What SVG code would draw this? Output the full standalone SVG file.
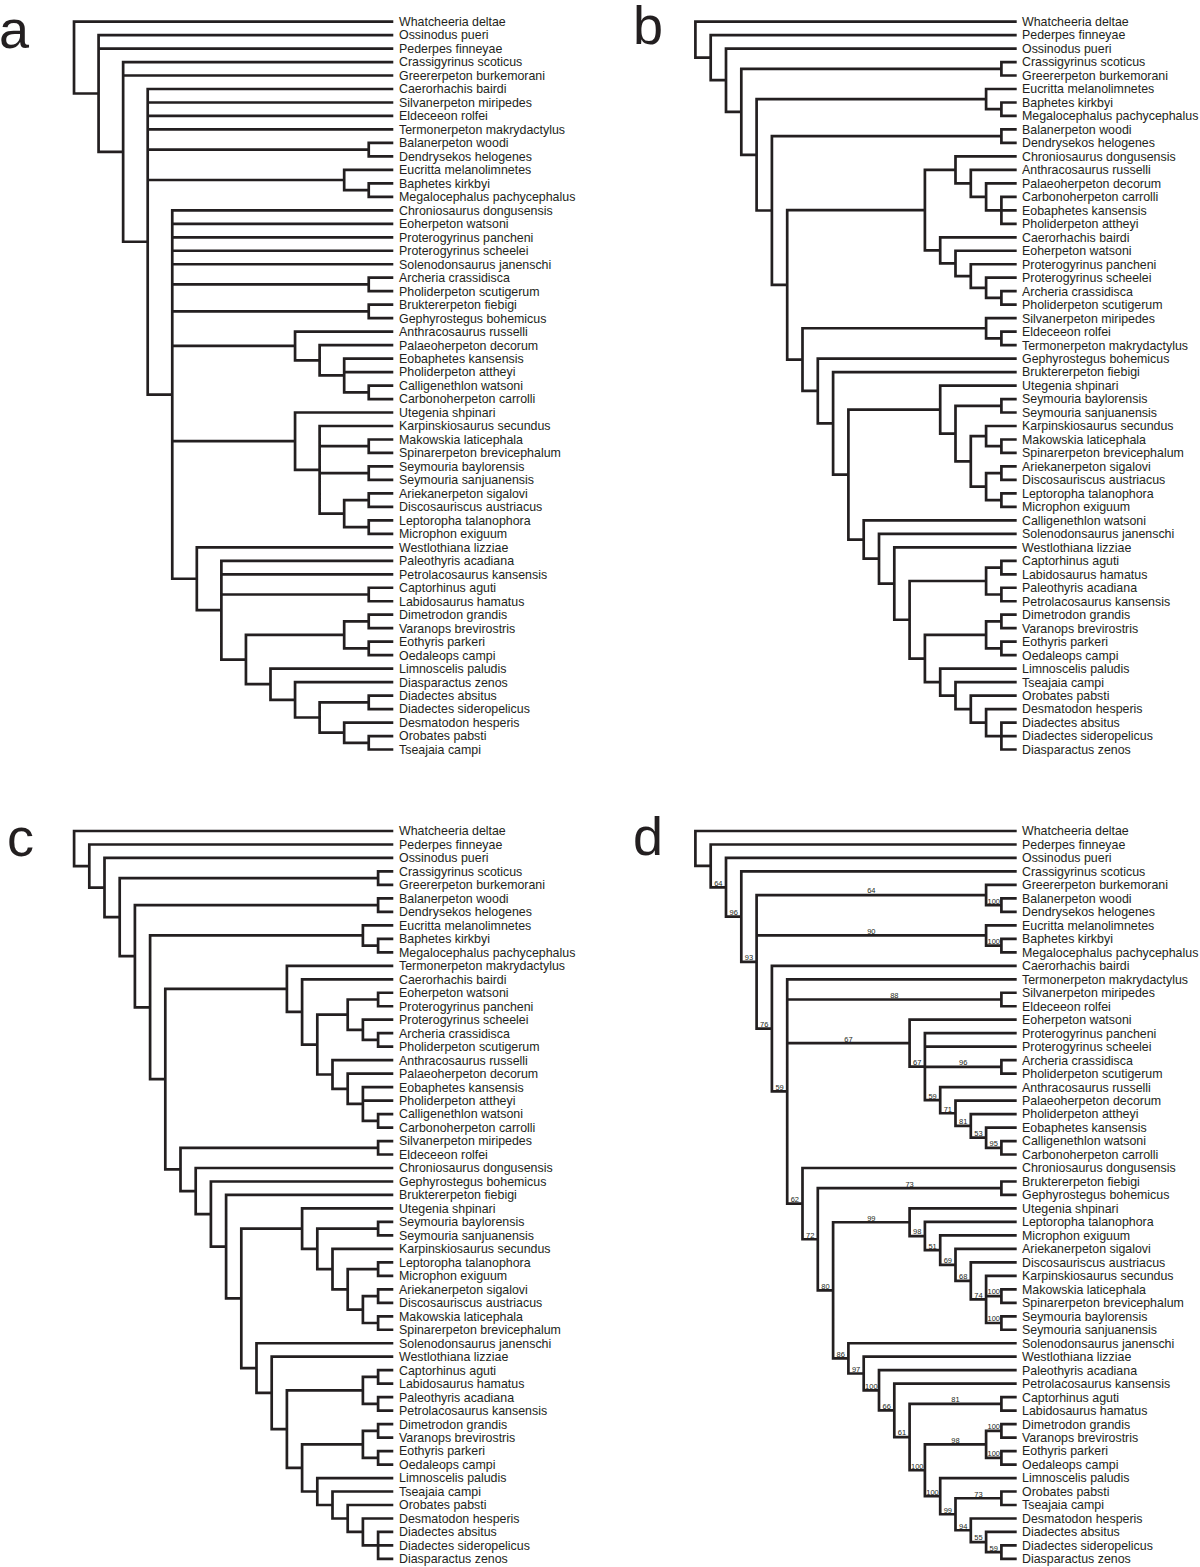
<svg xmlns="http://www.w3.org/2000/svg" width="1200" height="1567" viewBox="0 0 1200 1567">
<style>
.br{fill:none;stroke:#231f20;stroke-width:2.7;stroke-linejoin:miter;stroke-linecap:butt;vector-effect:non-scaling-stroke}
.t{font-family:"Liberation Sans",Arial,Helvetica,sans-serif;font-size:12.4px;fill:#231f20}
.bs{font-family:"Liberation Sans",Arial,Helvetica,sans-serif;font-size:7.5px;fill:#231f20;text-anchor:middle}
.pl{font-family:"Liberation Sans",Arial,Helvetica,sans-serif;font-size:54px;fill:#231f20}
</style>
<rect width="1200" height="1567" fill="#ffffff"/>
<g id="connectors">
<g id="tree-a" transform="matrix(-24.56 0 0 13.48 393.3 21.6)">
<path class="br" vector-effect="non-scaling-stroke" d="M0,0H13V5.3333H12 M0,1H12V9.6667H11M12,2H0 M0,3H11V16.3333H10M11,4H0 M0,5H10V27.666H9M10,6H0M10,7H0M10,8H0M10,9.5H1M10,11.75H2 M0,9H1V10H0 M0,11H2V12.5H1 M0,12H1V13H0 M0,14H9V41.332H8M9,15H0M9,16H0M9,17H0M9,18H0M9,19.5H1M9,21.5H1M9,24.0625H4M9,31.125H4 M0,19H1V20H0 M0,21H1V22H0 M0,23H4V25.125H3 M0,24H3V26.25H2 M0,25H2V27.5H1M2,26H0 M0,27H1V28H0 M0,29H4V33.25H3 M0,30H3V36.5H2M3,31.5H1M3,33.5H1 M0,31H1V32H0 M0,33H1V34H0 M1,35.5H2V37.5H1 M0,35H1V36H0 M0,37H1V38H0 M0,39H8V43.664H7 M0,40H7V47.328H6M7,41H0M7,42.5H1 M0,42H1V43H0 M2,45.5H6V49.156H5 M1,44.5H2V46.5H1 M0,44H1V45H0 M0,46H1V47H0 M0,48H5V50.3125H4 M0,49H4V51.625H3 M1,50.5H3V52.75H2 M0,50H1V51H0 M0,52H2V53.5H1 M0,53H1V54H0"/>
</g>
<g id="tree-b" transform="matrix(-15.3 0 0 13.48 1016.7 21.6)">
<path class="br" vector-effect="non-scaling-stroke" d="M0,0H21V2.6728H20 M0,1H20V4.3456H19 M0,2H19V6.6912H18 M1,3.5H18V9.8825H17 M0,3H1V4H0 M2,5.75H17V14.0149H16 M0,5H2V6.5H1 M0,6H1V7H0 M1,8.5H16V19.5298H15 M0,8H1V9H0 M6,13.9844H15V25.0752H14 M4,11H6V16.9688H5 M0,10H4V12H3 M0,11H3V13H2 M0,12H2V14H1 M0,13H1V15H0M1,14H0 M0,16H5V17.9375H4 M0,17H4V18.875H3 M0,18H3V19.75H2 M0,19H2V20.5H1 M0,20H1V21H0 M2,22.75H14V27.4004H13 M0,22H2V23.5H1 M0,23H1V24H0 M0,25H13V29.8008H12 M0,26H12V33.6016H11 M5,28.7813H11V38.4219H10 M0,27H5V30.5625H4 M1,28.5H4V32.625H3 M0,28H1V29H0 M2,30.75H3V34.5H2 M0,30H2V31.5H1 M0,31H1V32H0 M1,33.5H2V35.5H1 M0,33H1V34H0 M0,35H1V36H0 M0,37H10V39.8438H9 M0,38H9V41.6875H8 M0,39H8V44.375H7 M2,41.5H7V47.25H6 M1,40.5H2V42.5H1 M0,40H1V41H0 M0,42H1V43H0 M2,45.5H6V49H5 M1,44.5H2V46.5H1 M0,44H1V45H0 M0,46H1V47H0 M0,48H5V50H4 M0,49H4V51H3 M0,50H3V52H2 M0,51H2V53H1 M0,52H1V54H0M1,53H0"/>
</g>
<g id="tree-c" transform="matrix(-15.2 0 0 13.48 393.3 831)">
<path class="br" vector-effect="non-scaling-stroke" d="M0,0H21V2.5987H20 M0,1H20V4.1974H19 M0,2H19V6.3947H18 M1,3.5H18V9.2894H17 M0,3H1V4H0 M1,5.5H17V13.0789H16 M0,5H1V6H0 M2,7.75H16V18.4077H15 M0,7H2V8.5H1 M0,8H1V9H0 M7,11.7109H15V25.1045H14 M0,10H7V13.4219H6 M0,11H6V15.8438H5 M3,13.625H5V18.0625H4 M1,12.5H3V14.75H2 M0,12H1V13H0 M0,14H2V15.5H1 M0,15H1V16H0 M0,17H4V19.125H3 M0,18H3V20.25H2 M0,19H2V21.5H1M2,20H0 M0,21H1V22H0 M1,23.5H14V26.709H13 M0,23H1V24H0 M0,25H13V28.418H12 M0,26H12V30.8359H11 M0,27H11V34.6719H10 M6,29.5H10V39.8438H9 M0,28H6V31H5 M1,29.5H5V32.5H4 M0,29H1V30H0 M0,31H4V34H3 M1,32.5H3V35.5H2 M0,32H1V33H0 M1,34.5H2V36.5H1 M0,34H1V35H0 M0,36H1V37H0 M0,38H9V41.6875H8 M0,39H8V44.375H7 M2,41.5H7V47.25H6 M1,40.5H2V42.5H1 M0,40H1V41H0 M0,42H1V43H0 M2,45.5H6V49H5 M1,44.5H2V46.5H1 M0,44H1V45H0 M0,46H1V47H0 M0,48H5V50H4 M0,49H4V51H3 M0,50H3V52H2 M0,51H2V53H1 M0,52H1V54H0M1,53H0"/>
</g>
<g id="tree-d" transform="matrix(-15.3 0 0 13.48 1016.7 831)">
<path class="br" vector-effect="non-scaling-stroke" d="M0,0H21V2.5882H20 M0,1H20V4.1764H19 M0,2H19V6.3527H18 M0,3H18V9.7054H17 M2,4.75H17V14.6608H16M17,7.75H2 M0,4H2V5.5H1 M0,5H1V6H0 M0,7H2V8.5H1 M0,8H1V9H0 M0,10H16V19.3216H15 M0,11H15V27.6433H14M15,12.5H1M15,15.7422H7 M0,12H1V13H0 M0,14H7V17.4844H6 M0,15H6V19.9688H5M6,16H0M6,17.5H1 M0,17H1V18H0 M0,19H5V20.9375H4 M0,20H4V21.875H3 M0,21H3V22.75H2 M0,22H2V23.5H1 M0,23H1V24H0 M0,25H14V30.2865H13 M1,26.5H13V34.073H12 M0,26H1V27H0 M7,29.0234H12V39.1226H11 M0,28H7V30.0469H6 M0,29H6V31.0938H5 M0,30H5V32.1875H4 M0,31H4V33.375H3 M0,32H3V34.75H2 M0,33H2V36.5H1M2,34.5H1 M0,34H1V35H0 M0,36H1V37H0 M0,38H11V40.2451H10 M0,39H10V41.4902H9 M0,40H9V42.9805H8 M0,41H8V44.9609H7 M1,42.5H7V47.4219H6 M0,42H1V43H0 M2,45.5H6V49.3438H5 M1,44.5H2V46.5H1 M0,44H1V45H0 M0,46H1V47H0 M0,48H5V50.6875H4 M1,49.5H4V51.875H3 M0,49H1V50H0 M0,51H3V52.75H2 M0,52H2V53.5H1 M0,53H1V54H0"/>
</g>
</g>
<g id="panel-letters">
<text class="pl" x="-1" y="48">a</text>
<text class="pl" x="633" y="44" font-size="52">b</text>
<text class="pl" x="7" y="856">c</text>
<text class="pl" x="633" y="855">d</text>
</g>
<g id="labels-a" transform="translate(399 26)">
<g id="a0"><text class="t" y="0">Whatcheeria deltae</text></g>
<g id="a1"><text class="t" y="13.48">Ossinodus pueri</text></g>
<g id="a2"><text class="t" y="26.96">Pederpes finneyae</text></g>
<g id="a3"><text class="t" y="40.44">Crassigyrinus scoticus</text></g>
<g id="a4"><text class="t" y="53.92">Greererpeton burkemorani</text></g>
<g id="a5"><text class="t" y="67.4">Caerorhachis bairdi</text></g>
<g id="a6"><text class="t" y="80.88">Silvanerpeton miripedes</text></g>
<g id="a7"><text class="t" y="94.36">Eldeceeon rolfei</text></g>
<g id="a8"><text class="t" y="107.84">Termonerpeton makrydactylus</text></g>
<g id="a9"><text class="t" y="121.32">Balanerpeton woodi</text></g>
<g id="a10"><text class="t" y="134.8">Dendrysekos helogenes</text></g>
<g id="a11"><text class="t" y="148.28">Eucritta melanolimnetes</text></g>
<g id="a12"><text class="t" y="161.76">Baphetes kirkbyi</text></g>
<g id="a13"><text class="t" y="175.24">Megalocephalus pachycephalus</text></g>
<g id="a14"><text class="t" y="188.72">Chroniosaurus dongusensis</text></g>
<g id="a15"><text class="t" y="202.2">Eoherpeton watsoni</text></g>
<g id="a16"><text class="t" y="215.68">Proterogyrinus pancheni</text></g>
<g id="a17"><text class="t" y="229.16">Proterogyrinus scheelei</text></g>
<g id="a18"><text class="t" y="242.64">Solenodonsaurus janenschi</text></g>
<g id="a19"><text class="t" y="256.12">Archeria crassidisca</text></g>
<g id="a20"><text class="t" y="269.6">Pholiderpeton scutigerum</text></g>
<g id="a21"><text class="t" y="283.08">Bruktererpeton fiebigi</text></g>
<g id="a22"><text class="t" y="296.56">Gephyrostegus bohemicus</text></g>
<g id="a23"><text class="t" y="310.04">Anthracosaurus russelli</text></g>
<g id="a24"><text class="t" y="323.52">Palaeoherpeton decorum</text></g>
<g id="a25"><text class="t" y="337">Eobaphetes kansensis</text></g>
<g id="a26"><text class="t" y="350.48">Pholiderpeton attheyi</text></g>
<g id="a27"><text class="t" y="363.96">Calligenethlon watsoni</text></g>
<g id="a28"><text class="t" y="377.44">Carbonoherpeton carrolli</text></g>
<g id="a29"><text class="t" y="390.92">Utegenia shpinari</text></g>
<g id="a30"><text class="t" y="404.4">Karpinskiosaurus secundus</text></g>
<g id="a31"><text class="t" y="417.88">Makowskia laticephala</text></g>
<g id="a32"><text class="t" y="431.36">Spinarerpeton brevicephalum</text></g>
<g id="a33"><text class="t" y="444.84">Seymouria baylorensis</text></g>
<g id="a34"><text class="t" y="458.32">Seymouria sanjuanensis</text></g>
<g id="a35"><text class="t" y="471.8">Ariekanerpeton sigalovi</text></g>
<g id="a36"><text class="t" y="485.28">Discosauriscus austriacus</text></g>
<g id="a37"><text class="t" y="498.76">Leptoropha talanophora</text></g>
<g id="a38"><text class="t" y="512.24">Microphon exiguum</text></g>
<g id="a39"><text class="t" y="525.72">Westlothiana lizziae</text></g>
<g id="a40"><text class="t" y="539.2">Paleothyris acadiana</text></g>
<g id="a41"><text class="t" y="552.68">Petrolacosaurus kansensis</text></g>
<g id="a42"><text class="t" y="566.16">Captorhinus aguti</text></g>
<g id="a43"><text class="t" y="579.64">Labidosaurus hamatus</text></g>
<g id="a44"><text class="t" y="593.12">Dimetrodon grandis</text></g>
<g id="a45"><text class="t" y="606.6">Varanops brevirostris</text></g>
<g id="a46"><text class="t" y="620.08">Eothyris parkeri</text></g>
<g id="a47"><text class="t" y="633.56">Oedaleops campi</text></g>
<g id="a48"><text class="t" y="647.04">Limnoscelis paludis</text></g>
<g id="a49"><text class="t" y="660.52">Diasparactus zenos</text></g>
<g id="a50"><text class="t" y="674">Diadectes absitus</text></g>
<g id="a51"><text class="t" y="687.48">Diadectes sideropelicus</text></g>
<g id="a52"><text class="t" y="700.96">Desmatodon hesperis</text></g>
<g id="a53"><text class="t" y="714.44">Orobates pabsti</text></g>
<g id="a54"><text class="t" y="727.92">Tseajaia campi</text></g>
</g>
<g id="labels-b" transform="translate(1022 26)">
<g id="b0"><text class="t" y="0">Whatcheeria deltae</text></g>
<g id="b1"><text class="t" y="13.48">Pederpes finneyae</text></g>
<g id="b2"><text class="t" y="26.96">Ossinodus pueri</text></g>
<g id="b3"><text class="t" y="40.44">Crassigyrinus scoticus</text></g>
<g id="b4"><text class="t" y="53.92">Greererpeton burkemorani</text></g>
<g id="b5"><text class="t" y="67.4">Eucritta melanolimnetes</text></g>
<g id="b6"><text class="t" y="80.88">Baphetes kirkbyi</text></g>
<g id="b7"><text class="t" y="94.36">Megalocephalus pachycephalus</text></g>
<g id="b8"><text class="t" y="107.84">Balanerpeton woodi</text></g>
<g id="b9"><text class="t" y="121.32">Dendrysekos helogenes</text></g>
<g id="b10"><text class="t" y="134.8">Chroniosaurus dongusensis</text></g>
<g id="b11"><text class="t" y="148.28">Anthracosaurus russelli</text></g>
<g id="b12"><text class="t" y="161.76">Palaeoherpeton decorum</text></g>
<g id="b13"><text class="t" y="175.24">Carbonoherpeton carrolli</text></g>
<g id="b14"><text class="t" y="188.72">Eobaphetes kansensis</text></g>
<g id="b15"><text class="t" y="202.2">Pholiderpeton attheyi</text></g>
<g id="b16"><text class="t" y="215.68">Caerorhachis bairdi</text></g>
<g id="b17"><text class="t" y="229.16">Eoherpeton watsoni</text></g>
<g id="b18"><text class="t" y="242.64">Proterogyrinus pancheni</text></g>
<g id="b19"><text class="t" y="256.12">Proterogyrinus scheelei</text></g>
<g id="b20"><text class="t" y="269.6">Archeria crassidisca</text></g>
<g id="b21"><text class="t" y="283.08">Pholiderpeton scutigerum</text></g>
<g id="b22"><text class="t" y="296.56">Silvanerpeton miripedes</text></g>
<g id="b23"><text class="t" y="310.04">Eldeceeon rolfei</text></g>
<g id="b24"><text class="t" y="323.52">Termonerpeton makrydactylus</text></g>
<g id="b25"><text class="t" y="337">Gephyrostegus bohemicus</text></g>
<g id="b26"><text class="t" y="350.48">Bruktererpeton fiebigi</text></g>
<g id="b27"><text class="t" y="363.96">Utegenia shpinari</text></g>
<g id="b28"><text class="t" y="377.44">Seymouria baylorensis</text></g>
<g id="b29"><text class="t" y="390.92">Seymouria sanjuanensis</text></g>
<g id="b30"><text class="t" y="404.4">Karpinskiosaurus secundus</text></g>
<g id="b31"><text class="t" y="417.88">Makowskia laticephala</text></g>
<g id="b32"><text class="t" y="431.36">Spinarerpeton brevicephalum</text></g>
<g id="b33"><text class="t" y="444.84">Ariekanerpeton sigalovi</text></g>
<g id="b34"><text class="t" y="458.32">Discosauriscus austriacus</text></g>
<g id="b35"><text class="t" y="471.8">Leptoropha talanophora</text></g>
<g id="b36"><text class="t" y="485.28">Microphon exiguum</text></g>
<g id="b37"><text class="t" y="498.76">Calligenethlon watsoni</text></g>
<g id="b38"><text class="t" y="512.24">Solenodonsaurus janenschi</text></g>
<g id="b39"><text class="t" y="525.72">Westlothiana lizziae</text></g>
<g id="b40"><text class="t" y="539.2">Captorhinus aguti</text></g>
<g id="b41"><text class="t" y="552.68">Labidosaurus hamatus</text></g>
<g id="b42"><text class="t" y="566.16">Paleothyris acadiana</text></g>
<g id="b43"><text class="t" y="579.64">Petrolacosaurus kansensis</text></g>
<g id="b44"><text class="t" y="593.12">Dimetrodon grandis</text></g>
<g id="b45"><text class="t" y="606.6">Varanops brevirostris</text></g>
<g id="b46"><text class="t" y="620.08">Eothyris parkeri</text></g>
<g id="b47"><text class="t" y="633.56">Oedaleops campi</text></g>
<g id="b48"><text class="t" y="647.04">Limnoscelis paludis</text></g>
<g id="b49"><text class="t" y="660.52">Tseajaia campi</text></g>
<g id="b50"><text class="t" y="674">Orobates pabsti</text></g>
<g id="b51"><text class="t" y="687.48">Desmatodon hesperis</text></g>
<g id="b52"><text class="t" y="700.96">Diadectes absitus</text></g>
<g id="b53"><text class="t" y="714.44">Diadectes sideropelicus</text></g>
<g id="b54"><text class="t" y="727.92">Diasparactus zenos</text></g>
</g>
<g id="labels-c" transform="translate(399 835.4)">
<g id="c0"><text class="t" y="0">Whatcheeria deltae</text></g>
<g id="c1"><text class="t" y="13.48">Pederpes finneyae</text></g>
<g id="c2"><text class="t" y="26.96">Ossinodus pueri</text></g>
<g id="c3"><text class="t" y="40.44">Crassigyrinus scoticus</text></g>
<g id="c4"><text class="t" y="53.92">Greererpeton burkemorani</text></g>
<g id="c5"><text class="t" y="67.4">Balanerpeton woodi</text></g>
<g id="c6"><text class="t" y="80.88">Dendrysekos helogenes</text></g>
<g id="c7"><text class="t" y="94.36">Eucritta melanolimnetes</text></g>
<g id="c8"><text class="t" y="107.84">Baphetes kirkbyi</text></g>
<g id="c9"><text class="t" y="121.32">Megalocephalus pachycephalus</text></g>
<g id="c10"><text class="t" y="134.8">Termonerpeton makrydactylus</text></g>
<g id="c11"><text class="t" y="148.28">Caerorhachis bairdi</text></g>
<g id="c12"><text class="t" y="161.76">Eoherpeton watsoni</text></g>
<g id="c13"><text class="t" y="175.24">Proterogyrinus pancheni</text></g>
<g id="c14"><text class="t" y="188.72">Proterogyrinus scheelei</text></g>
<g id="c15"><text class="t" y="202.2">Archeria crassidisca</text></g>
<g id="c16"><text class="t" y="215.68">Pholiderpeton scutigerum</text></g>
<g id="c17"><text class="t" y="229.16">Anthracosaurus russelli</text></g>
<g id="c18"><text class="t" y="242.64">Palaeoherpeton decorum</text></g>
<g id="c19"><text class="t" y="256.12">Eobaphetes kansensis</text></g>
<g id="c20"><text class="t" y="269.6">Pholiderpeton attheyi</text></g>
<g id="c21"><text class="t" y="283.08">Calligenethlon watsoni</text></g>
<g id="c22"><text class="t" y="296.56">Carbonoherpeton carrolli</text></g>
<g id="c23"><text class="t" y="310.04">Silvanerpeton miripedes</text></g>
<g id="c24"><text class="t" y="323.52">Eldeceeon rolfei</text></g>
<g id="c25"><text class="t" y="337">Chroniosaurus dongusensis</text></g>
<g id="c26"><text class="t" y="350.48">Gephyrostegus bohemicus</text></g>
<g id="c27"><text class="t" y="363.96">Bruktererpeton fiebigi</text></g>
<g id="c28"><text class="t" y="377.44">Utegenia shpinari</text></g>
<g id="c29"><text class="t" y="390.92">Seymouria baylorensis</text></g>
<g id="c30"><text class="t" y="404.4">Seymouria sanjuanensis</text></g>
<g id="c31"><text class="t" y="417.88">Karpinskiosaurus secundus</text></g>
<g id="c32"><text class="t" y="431.36">Leptoropha talanophora</text></g>
<g id="c33"><text class="t" y="444.84">Microphon exiguum</text></g>
<g id="c34"><text class="t" y="458.32">Ariekanerpeton sigalovi</text></g>
<g id="c35"><text class="t" y="471.8">Discosauriscus austriacus</text></g>
<g id="c36"><text class="t" y="485.28">Makowskia laticephala</text></g>
<g id="c37"><text class="t" y="498.76">Spinarerpeton brevicephalum</text></g>
<g id="c38"><text class="t" y="512.24">Solenodonsaurus janenschi</text></g>
<g id="c39"><text class="t" y="525.72">Westlothiana lizziae</text></g>
<g id="c40"><text class="t" y="539.2">Captorhinus aguti</text></g>
<g id="c41"><text class="t" y="552.68">Labidosaurus hamatus</text></g>
<g id="c42"><text class="t" y="566.16">Paleothyris acadiana</text></g>
<g id="c43"><text class="t" y="579.64">Petrolacosaurus kansensis</text></g>
<g id="c44"><text class="t" y="593.12">Dimetrodon grandis</text></g>
<g id="c45"><text class="t" y="606.6">Varanops brevirostris</text></g>
<g id="c46"><text class="t" y="620.08">Eothyris parkeri</text></g>
<g id="c47"><text class="t" y="633.56">Oedaleops campi</text></g>
<g id="c48"><text class="t" y="647.04">Limnoscelis paludis</text></g>
<g id="c49"><text class="t" y="660.52">Tseajaia campi</text></g>
<g id="c50"><text class="t" y="674">Orobates pabsti</text></g>
<g id="c51"><text class="t" y="687.48">Desmatodon hesperis</text></g>
<g id="c52"><text class="t" y="700.96">Diadectes absitus</text></g>
<g id="c53"><text class="t" y="714.44">Diadectes sideropelicus</text></g>
<g id="c54"><text class="t" y="727.92">Diasparactus zenos</text></g>
</g>
<g id="labels-d" transform="translate(1022 835.4)">
<g id="d0"><text class="t" y="0">Whatcheeria deltae</text></g>
<g id="d1"><text class="t" y="13.48">Pederpes finneyae</text></g>
<g id="d2"><text class="t" y="26.96">Ossinodus pueri</text></g>
<g id="d3"><text class="t" y="40.44">Crassigyrinus scoticus</text></g>
<g id="d4"><text class="t" y="53.92">Greererpeton burkemorani</text></g>
<g id="d5"><text class="t" y="67.4">Balanerpeton woodi</text></g>
<g id="d6"><text class="t" y="80.88">Dendrysekos helogenes</text></g>
<g id="d7"><text class="t" y="94.36">Eucritta melanolimnetes</text></g>
<g id="d8"><text class="t" y="107.84">Baphetes kirkbyi</text></g>
<g id="d9"><text class="t" y="121.32">Megalocephalus pachycephalus</text></g>
<g id="d10"><text class="t" y="134.8">Caerorhachis bairdi</text></g>
<g id="d11"><text class="t" y="148.28">Termonerpeton makrydactylus</text></g>
<g id="d12"><text class="t" y="161.76">Silvanerpeton miripedes</text></g>
<g id="d13"><text class="t" y="175.24">Eldeceeon rolfei</text></g>
<g id="d14"><text class="t" y="188.72">Eoherpeton watsoni</text></g>
<g id="d15"><text class="t" y="202.2">Proterogyrinus pancheni</text></g>
<g id="d16"><text class="t" y="215.68">Proterogyrinus scheelei</text></g>
<g id="d17"><text class="t" y="229.16">Archeria crassidisca</text></g>
<g id="d18"><text class="t" y="242.64">Pholiderpeton scutigerum</text></g>
<g id="d19"><text class="t" y="256.12">Anthracosaurus russelli</text></g>
<g id="d20"><text class="t" y="269.6">Palaeoherpeton decorum</text></g>
<g id="d21"><text class="t" y="283.08">Pholiderpeton attheyi</text></g>
<g id="d22"><text class="t" y="296.56">Eobaphetes kansensis</text></g>
<g id="d23"><text class="t" y="310.04">Calligenethlon watsoni</text></g>
<g id="d24"><text class="t" y="323.52">Carbonoherpeton carrolli</text></g>
<g id="d25"><text class="t" y="337">Chroniosaurus dongusensis</text></g>
<g id="d26"><text class="t" y="350.48">Bruktererpeton fiebigi</text></g>
<g id="d27"><text class="t" y="363.96">Gephyrostegus bohemicus</text></g>
<g id="d28"><text class="t" y="377.44">Utegenia shpinari</text></g>
<g id="d29"><text class="t" y="390.92">Leptoropha talanophora</text></g>
<g id="d30"><text class="t" y="404.4">Microphon exiguum</text></g>
<g id="d31"><text class="t" y="417.88">Ariekanerpeton sigalovi</text></g>
<g id="d32"><text class="t" y="431.36">Discosauriscus austriacus</text></g>
<g id="d33"><text class="t" y="444.84">Karpinskiosaurus secundus</text></g>
<g id="d34"><text class="t" y="458.32">Makowskia laticephala</text></g>
<g id="d35"><text class="t" y="471.8">Spinarerpeton brevicephalum</text></g>
<g id="d36"><text class="t" y="485.28">Seymouria baylorensis</text></g>
<g id="d37"><text class="t" y="498.76">Seymouria sanjuanensis</text></g>
<g id="d38"><text class="t" y="512.24">Solenodonsaurus janenschi</text></g>
<g id="d39"><text class="t" y="525.72">Westlothiana lizziae</text></g>
<g id="d40"><text class="t" y="539.2">Paleothyris acadiana</text></g>
<g id="d41"><text class="t" y="552.68">Petrolacosaurus kansensis</text></g>
<g id="d42"><text class="t" y="566.16">Captorhinus aguti</text></g>
<g id="d43"><text class="t" y="579.64">Labidosaurus hamatus</text></g>
<g id="d44"><text class="t" y="593.12">Dimetrodon grandis</text></g>
<g id="d45"><text class="t" y="606.6">Varanops brevirostris</text></g>
<g id="d46"><text class="t" y="620.08">Eothyris parkeri</text></g>
<g id="d47"><text class="t" y="633.56">Oedaleops campi</text></g>
<g id="d48"><text class="t" y="647.04">Limnoscelis paludis</text></g>
<g id="d49"><text class="t" y="660.52">Orobates pabsti</text></g>
<g id="d50"><text class="t" y="674">Tseajaia campi</text></g>
<g id="d51"><text class="t" y="687.48">Desmatodon hesperis</text></g>
<g id="d52"><text class="t" y="700.96">Diadectes absitus</text></g>
<g id="d53"><text class="t" y="714.44">Diadectes sideropelicus</text></g>
<g id="d54"><text class="t" y="727.92">Diasparactus zenos</text></g>
</g>
<g id="support-d">
<text class="bs" x="718.35" y="885.7">64</text>
<text class="bs" x="733.65" y="915.03">96</text>
<text class="bs" x="748.95" y="960.23">93</text>
<text class="bs" x="871.35" y="893.43">64</text>
<text class="bs" x="993.75" y="903.54">100</text>
<text class="bs" x="871.35" y="933.87">90</text>
<text class="bs" x="993.75" y="943.98">100</text>
<text class="bs" x="764.25" y="1027.03">76</text>
<text class="bs" x="779.55" y="1089.86">59</text>
<text class="bs" x="894.3" y="997.9">88</text>
<text class="bs" x="848.4" y="1041.6">67</text>
<text class="bs" x="917.25" y="1065.09">67</text>
<text class="bs" x="963.15" y="1065.3">96</text>
<text class="bs" x="932.55" y="1098.58">59</text>
<text class="bs" x="947.85" y="1111.64">71</text>
<text class="bs" x="963.15" y="1124.28">81</text>
<text class="bs" x="978.45" y="1136.07">53</text>
<text class="bs" x="993.75" y="1146.18">95</text>
<text class="bs" x="794.85" y="1202.03">62</text>
<text class="bs" x="810.15" y="1237.66">72</text>
<text class="bs" x="909.6" y="1186.62">73</text>
<text class="bs" x="825.45" y="1288.7">80</text>
<text class="bs" x="871.35" y="1220.64">99</text>
<text class="bs" x="917.25" y="1234.43">98</text>
<text class="bs" x="932.55" y="1248.54">51</text>
<text class="bs" x="947.85" y="1263.28">69</text>
<text class="bs" x="963.15" y="1279.3">68</text>
<text class="bs" x="978.45" y="1297.83">74</text>
<text class="bs" x="993.75" y="1294.46">100</text>
<text class="bs" x="993.75" y="1321.42">100</text>
<text class="bs" x="840.75" y="1356.77">86</text>
<text class="bs" x="856.05" y="1371.9">97</text>
<text class="bs" x="871.35" y="1388.69">100</text>
<text class="bs" x="886.65" y="1408.78">66</text>
<text class="bs" x="901.95" y="1435.47">61</text>
<text class="bs" x="955.5" y="1402.3">81</text>
<text class="bs" x="917.25" y="1468.65">100</text>
<text class="bs" x="955.5" y="1442.74">98</text>
<text class="bs" x="993.75" y="1429.26">100</text>
<text class="bs" x="993.75" y="1456.22">100</text>
<text class="bs" x="932.55" y="1494.55">100</text>
<text class="bs" x="947.85" y="1512.67">99</text>
<text class="bs" x="978.45" y="1496.66">73</text>
<text class="bs" x="963.15" y="1528.68">94</text>
<text class="bs" x="978.45" y="1540.47">55</text>
<text class="bs" x="993.75" y="1550.58">59</text>
</g>
</svg>
